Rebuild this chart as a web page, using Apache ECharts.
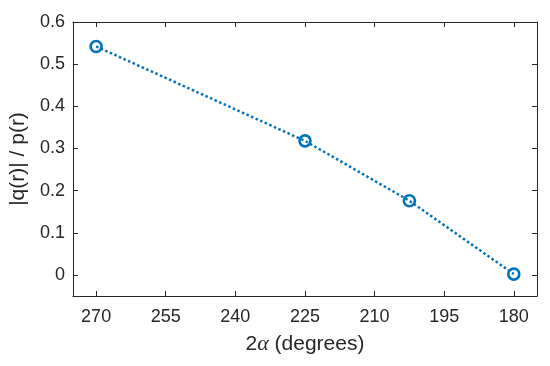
<!DOCTYPE html>
<html>
<head>
<meta charset="utf-8">
<script src="https://cdn.jsdelivr.net/npm/echarts@6/dist/echarts.min.js"></script>
<style>html,body{margin:0;padding:0;background:#fff}#c{width:550px;height:366px}</style>
</head>
<body>
<div id="c"></div>
<script>
var xValues = [270, 225, 202.5, 180];
var yValues = [0.542, 0.318, 0.176, 0.002];
var xTicks = [180, 195, 210, 225, 240, 255, 270];
var yTicks = [0, 0.1, 0.2, 0.3, 0.4, 0.5, 0.6];
var xName = '2{a|α} (degrees)';
var yName = '|q(r)| / p(r)';

var axisColor = '#262626';
var font = 'Liberation Sans, Arial, Helvetica, sans-serif';
var chart = echarts.init(document.getElementById('c'));
var data = xValues.map(function (x, i) { return [x, yValues[i]]; });

function xAx(show, pos) {
  return {
    type: 'value', inverse: true, min: 175, max: 275, position: pos,
    name: show ? xName : '', nameLocation: 'middle', nameGap: 37,
    nameTextStyle: { fontFamily: font, fontSize: 21, color: axisColor,
      rich: { a: { fontFamily: 'Liberation Serif, serif', fontStyle: 'italic', fontSize: 22, color: axisColor } } },
    axisLine: { show: true, onZero: false, lineStyle: { color: axisColor, width: 1 } },
    axisTick: { show: true, inside: true, length: 5, customValues: xTicks, lineStyle: { color: axisColor } },
    axisLabel: { show: show, customValues: xTicks, margin: 12, fontFamily: font, fontSize: 18, color: axisColor },
    splitLine: { show: false }
  };
}
function yAx(show, pos) {
  return {
    type: 'value', min: -0.05, max: 0.6, position: pos,
    name: show ? yName : '', nameLocation: 'middle', nameGap: 40,
    nameTextStyle: { fontFamily: font, fontSize: 21, color: axisColor },
    axisLine: { show: true, onZero: false, lineStyle: { color: axisColor, width: 1 } },
    axisTick: { show: true, inside: true, length: 5, customValues: yTicks, lineStyle: { color: axisColor } },
    axisLabel: { show: show, customValues: yTicks, margin: 8, fontFamily: font, fontSize: 18, color: axisColor,
      formatter: function (v) { return Math.abs(v) < 1e-9 ? '0' : (+v.toFixed(2)).toString(); } },
    splitLine: { show: false }
  };
}

chart.setOption({
  animation: false,
  grid: { left: 70, right: 13, top: 22, bottom: 70 },
  xAxis: [xAx(true, 'bottom'), xAx(false, 'top')],
  yAxis: [yAx(true, 'left'), yAx(false, 'right')],
  series: [{
    type: 'line', data: data, xAxisIndex: 0, yAxisIndex: 0,
    symbol: 'circle', symbolSize: 11,
    lineStyle: { color: '#0072BD', width: 2.5, type: [2.5, 2.5] },
    itemStyle: { color: 'rgba(255,255,255,0)', borderColor: '#0072BD', borderWidth: 2.6 }
  }]
});
</script>
</body>
</html>
